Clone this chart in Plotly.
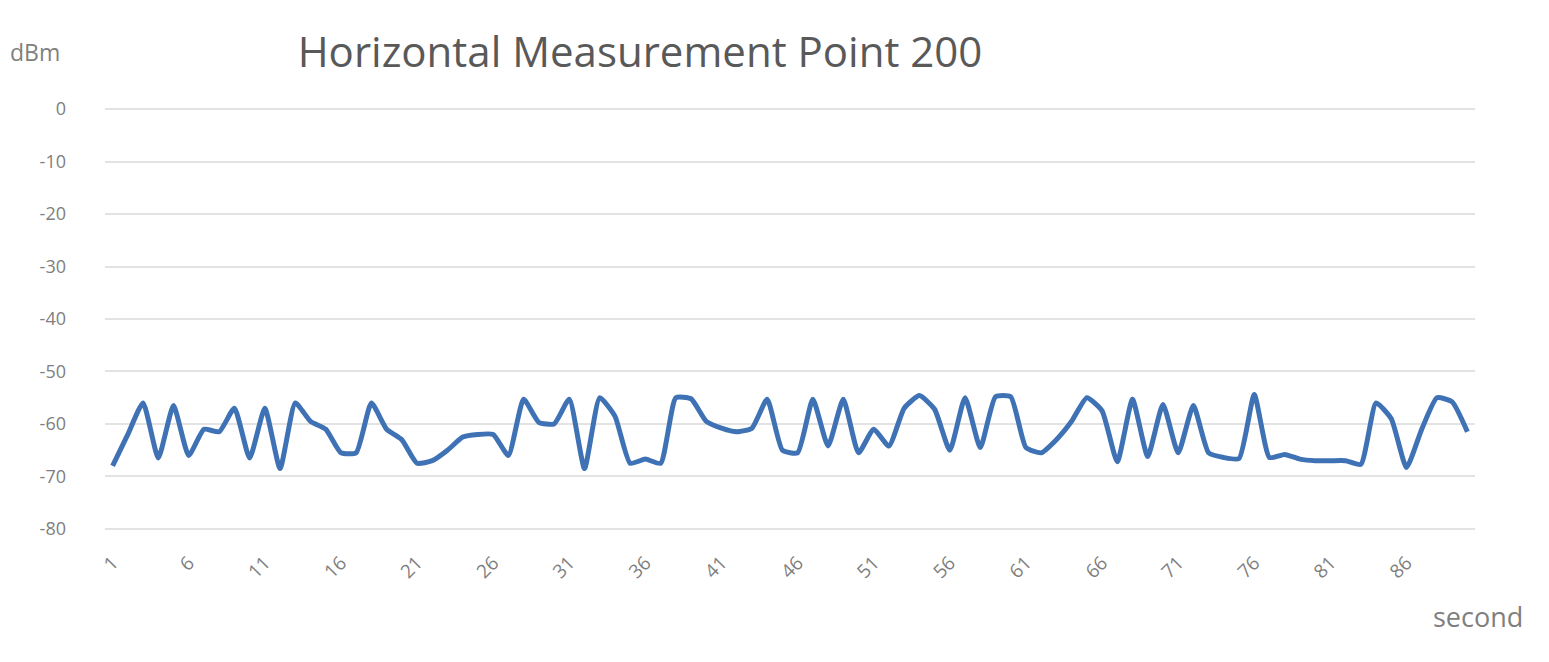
import plotly.graph_objects as go

seconds = list(range(1, 91))
dbm = [
    -68, -62, -56, -66.5, -56.5, -66, -61, -61.5, -57, -66.5,
    -57, -68.5, -56, -59.5, -61, -65.5, -65.5, -56, -61, -63,
    -67.5, -67, -65, -62.5, -62, -62, -66, -55.3, -59.7, -60,
    -55.3, -68.5, -55, -58.5, -67.5, -66.7, -67.5, -55, -55.2, -59.5,
    -60.8, -61.5, -60.8, -55.3, -65, -65.5, -55.3, -64.2, -55.3, -65.5,
    -61, -64.2, -57, -54.6, -57.2, -65, -55, -64.5, -54.8, -54.8,
    -64.5, -65.5, -63, -59.5, -55, -57.5, -67.2, -55.3, -66.2, -56.3,
    -65.5, -56.5, -65.5, -66.4, -66.6, -54.4, -66.4, -65.8, -66.7, -67,
    -67, -67, -67.7, -56, -59, -68.3, -61, -55, -55.8, -61.5,
]
x_tickvals = list(range(1, 91, 5))
x_ticktext = [str(v) for v in x_tickvals]
y_tickvals = [0, -10, -20, -30, -40, -50, -60, -70, -80]
y_ticktext = [str(v) for v in y_tickvals]

title_text = "Horizontal Measurement Point 200"
y_unit = "dBm"
x_unit = "second"

FONT = "Open Sans"
GRAY = "#7f7f7f"

W, H = 1533, 646
OFF = 8  # page body margin
PL, PR, PT, PB = 105 - OFF, 1475 - OFF, 109 - OFF, 529 - OFF
PAD = 0.4
ppu = (PB - PT) / 80.0

fig = go.Figure()
fig.add_trace(go.Scatter(
    x=seconds, y=dbm, mode="lines",
    line=dict(color="#3f72b5", width=5, shape="spline", smoothing=0.5),
    showlegend=False,
))

top = PT - PAD * ppu
bot = PB + PAD * ppu
pw = PR - PL
ph = bot - top

def px(x):
    return (x - OFF - PL) / pw

def py(y):
    return (bot - (y - OFF)) / ph

fig.update_layout(
    width=W, height=H,
    margin=dict(l=PL, r=W - PR, t=top, b=H - bot, autoexpand=False),
    paper_bgcolor="white", plot_bgcolor="white",
    font=dict(family=FONT, color=GRAY, size=17),
    title=dict(
        text=title_text, x=(640 - OFF) / W, xref="container", xanchor="center",
        y=1 - (52 - OFF) / H, yref="container", yanchor="middle",
        font=dict(family=FONT, size=42, color="#595959"),
    ),
    xaxis=dict(
        range=[0.5, 90.5], tickmode="array", tickvals=x_tickvals, ticktext=x_ticktext,
        tickangle=-45, showgrid=False, zeroline=False, showline=False, ticks="",
        ticklabelstandoff=16, tickfont=dict(size=19, color=GRAY),
    ),
    yaxis=dict(
        range=[-80 - PAD, PAD], tickmode="array", tickvals=y_tickvals, ticktext=y_ticktext,
        showgrid=True, gridcolor="#e3e3e3", gridwidth=2, zeroline=False,
        showline=False, ticks="", ticklabelstandoff=38,
        tickfont=dict(size=18, color=GRAY),
    ),
    annotations=[
        dict(text=y_unit, xref="paper", yref="paper", x=px(35), y=py(52),
             xanchor="center", yanchor="middle", showarrow=False,
             font=dict(size=23, color=GRAY, family=FONT)),
        dict(text=x_unit, xref="paper", yref="paper", x=px(1478), y=py(617),
             xanchor="center", yanchor="middle", showarrow=False,
             font=dict(size=27, color=GRAY, family=FONT)),
    ],
)

fig.write_html("out.html")
